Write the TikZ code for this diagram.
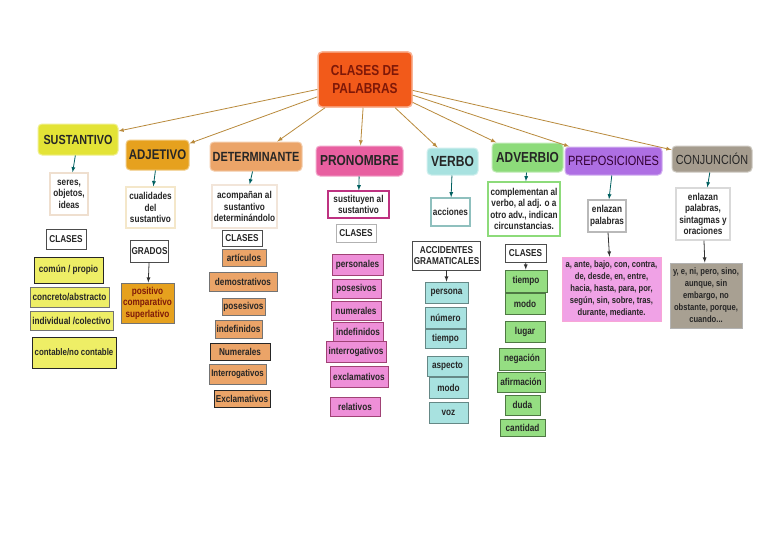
\documentclass[tikz,border=0pt]{standalone}
\usepackage{fontspec}
\setmainfont{Liberation Sans}[FakeStretch=0.82]
\definecolor{rootfill}{HTML}{F25A1A}
\definecolor{rootink}{HTML}{7E1808}
\definecolor{linkbrown}{HTML}{B98A3C}
\definecolor{sustY}{HTML}{E3E336}
\definecolor{adjO}{HTML}{E6A11E}
\definecolor{detO}{HTML}{EBA468}
\definecolor{pronP}{HTML}{E85FA0}
\definecolor{verbC}{HTML}{A8E2E0}
\definecolor{advG}{HTML}{8DDB7A}
\definecolor{prepV}{HTML}{AE6FE3}
\definecolor{conjG}{HTML}{A59C8E}
\definecolor{leafY}{HTML}{EEEE66}
\definecolor{leafP}{HTML}{EE8FD8}
\definecolor{leafG}{HTML}{95DE82}
\definecolor{listP}{HTML}{F0A2E6}
\definecolor{listG}{HTML}{A8A092}
\begin{document}
\begin{tikzpicture}[x=1pt, y=-1pt, thick,
    box/.style 2 args = {minimum width=#1, minimum height=#2, inner sep=1pt, align=center, font=\bfseries\fontsize{10}{11.5}\selectfont, text=black!85},
    root/.style = {fill=rootfill, draw=rootfill!45!white, rounded corners=4, line width=1.5pt, text=rootink, align=center, font=\bfseries\fontsize{14.5}{18}\selectfont},
    cat/.style = {fill=#1, draw=#1!55!white, rounded corners=4, line width=1pt, inner sep=1pt, text=black!85, font=\bfseries\fontsize{13.5}{15}\selectfont},
    info/.style = {draw=#1, line width=1.3pt, fill=white},
    tag/.style = {draw=black!70, line width=0.8pt, fill=white},
    leaf/.style = {fill=#1, draw=black!55, line width=0.8pt},
    link/.style = {-latex, draw=linkbrown, line width=0.8pt},
    sub/.style = {-latex, draw=teal!75!black, line width=0.8pt},
    down/.style = {-latex, draw=black!80, line width=0.8pt}
    ]
    \fill[white] (0,0) rectangle (768,543);
    \useasboundingbox (0,0) rectangle (768,543);

    \node[root, minimum width=94, minimum height=55] (root) at (365,79.5) {CLASES DE\\PALABRAS};

    % word classes
    \node[cat=sustY, minimum width=80, minimum height=31, font=\bfseries\fontsize{13.2}{15}\selectfont] (sust) at (78,139.5) {SUSTANTIVO};
    \node[cat=adjO, minimum width=63, minimum height=30, font=\bfseries\fontsize{14}{15}\selectfont] (adj) at (157.5,155) {ADJETIVO};
    \node[cat=detO, minimum width=92, minimum height=29, font=\bfseries\fontsize{13.3}{15}\selectfont] (det) at (256,156.5) {DETERMINANTE};
    \node[cat=pronP, minimum width=87, minimum height=30, font=\bfseries\fontsize{14.5}{15}\selectfont] (pron) at (359.5,161) {PRONOMBRE};
    \node[cat=verbC, minimum width=51, minimum height=27, font=\bfseries\fontsize{14.7}{15}\selectfont] (verbo) at (452.5,161.5) {VERBO};
    \node[cat=advG, minimum width=71, minimum height=29, font=\bfseries\fontsize{14.5}{15}\selectfont] (adv) at (527.5,157.5) {ADVERBIO};
    \node[cat=prepV, minimum width=97, minimum height=28, text=violet!40!black, font=\fontsize{13.4}{15}\selectfont] (prep) at (613.5,161) {PREPOSICIONES};
    \node[cat=conjG, minimum width=80, minimum height=26, font=\fontsize{13.2}{15}\selectfont] (conj) at (712,159) {CONJUNCIÓN};

    \foreach \w in {sust, adj, det, pron, verbo, adv, prep, conj}
        \draw[link] (root) -- (\w);

    % definitions
    \node[box={38}{42}, info=brown!25] (seres) at (69,194) {seres,\\objetos,\\ideas};
    \node[box={49}{41}, info=yellow!25!brown!25] (cual) at (150.5,207.5) {cualidades\\del\\sustantivo};
    \node[box={65}{43}, info=brown!20] (acomp) at (244.5,206.5) {acompañan al\\sustantivo\\determinándolo};
    \node[box={61}{27}, info=magenta!75!black] (sustit) at (358.5,204.5) {sustituyen al\\sustantivo};
    \node[box={39}{28}, info=verbC!85!black] (acc) at (450.5,212) {acciones};
    \node[box={72}{54}, info=advG] (compl) at (524,209) {complementan al\\verbo, al adj. o a\\otro adv., indican\\circunstancias.};
    \node[box={38}{32}, info=gray!55] (enl) at (607,216) {enlazan\\palabras};
    \node[box={54}{52}, info=gray!30] (enlb) at (703,214) {enlazan\\palabras,\\sintagmas y\\oraciones};

    \draw[sub] (sust) -- (seres);
    \draw[sub] (adj) -- (cual);
    \draw[sub] (det) -- (acomp);
    \draw[sub] (pron) -- (sustit);
    \draw[sub] (verbo) -- (acc);
    \draw[sub] (adv) -- (compl);
    \draw[sub] (prep) -- (enl);
    \draw[sub] (conj) -- (enlb);

    % sustantivo
    \node[box={40}{20}, tag] (sclases) at (66,239) {CLASES};
    \node[box={69}{26}, leaf=leafY, draw=black!85] (comun) at (68.5,270) {común / propio};
    \node[box={79}{20}, leaf=leafY] (concr) at (69.5,297) {concreto/abstracto};
    \node[box={83}{19}, leaf=leafY] (indiv) at (71.5,320.5) {individual /colectivo};
    \node[box={84}{31}, leaf=leafY, draw=black!85, font=\bfseries\fontsize{9.6}{11}\selectfont] (contab) at (74,352.5) {contable/no contable};

    % adjetivo
    \node[box={37}{22}, tag] (grados) at (149.5,251) {GRADOS};
    \node[box={53}{40}, leaf=adjO, text=rootink] (posit) at (147.5,303) {positivo\\comparativo\\superlativo};
    \draw[down] (grados) -- (posit);

    % determinante
    \node[box={40}{16}, tag] (dclases) at (242,238) {CLASES};
    \node[box={44}{17}, leaf=detO] (dart) at (244,257.5) {artículos};
    \node[box={68}{19}, leaf=detO] (ddem) at (243,281.5) {demostrativos};
    \node[box={43}{17}, leaf=detO] (dpos) at (243.5,306.5) {posesivos};
    \node[box={47}{18}, leaf=detO] (dind) at (238.5,329) {indefinidos};
    \node[box={60}{17}, leaf=detO, draw=black!85] (dnum) at (240,351.5) {Numerales};
    \node[box={57}{20}, leaf=detO, font=\bfseries\fontsize{9.6}{11}\selectfont] (dint) at (237.5,374) {Interrogativos};
    \node[box={56}{17}, leaf=detO, draw=black!85] (dexc) at (242,398.5) {Exclamativos};

    % pronombre
    \node[box={40}{18}, tag, draw=gray!60] (pclases) at (356,233) {CLASES};
    \node[box={51}{21}, leaf=leafP, draw=magenta!60!black] (pper) at (357.5,264.5) {personales};
    \node[box={49}{19}, leaf=leafP, draw=magenta!60!black] (ppos) at (356.5,288.5) {posesivos};
    \node[box={50}{19}, leaf=leafP, draw=magenta!60!black] (pnum) at (356,310.5) {numerales};
    \node[box={50}{19}, leaf=leafP, draw=magenta!60!black] (pind) at (358,331.5) {indefinidos};
    \node[box={60}{21}, leaf=leafP, draw=magenta!60!black] (pint) at (356,351.5) {interrogativos};
    \node[box={58}{21}, leaf=leafP, draw=magenta!60!black] (pexc) at (359,376.5) {exclamativos};
    \node[box={50}{19}, leaf=leafP, draw=magenta!60!black] (prel) at (355,406.5) {relativos};

    % verbo
    \node[box={63}{29}, tag] (accid) at (446.5,255.5) {ACCIDENTES\\GRAMATICALES};
    \node[box={43}{21}, leaf=verbC, draw=verbC!60!black] (vper) at (446.5,292.5) {persona};
    \node[box={41}{21}, leaf=verbC, draw=verbC!60!black] (vnum) at (445.5,317.5) {número};
    \node[box={41}{19}, leaf=verbC, draw=verbC!60!black] (vtie) at (445.5,338.5) {tiempo};
    \node[box={41}{20}, leaf=verbC, draw=verbC!60!black] (vasp) at (447.5,366) {aspecto};
    \node[box={39}{21}, leaf=verbC, draw=verbC!60!black] (vmod) at (448.5,387.5) {modo};
    \node[box={39}{21}, leaf=verbC, draw=verbC!60!black] (vvoz) at (448.5,412.5) {voz};
    \draw[down] (accid) -- (vper);

    % adverbio
    \node[box={41}{18}, tag] (aclases) at (525.5,253) {CLASES};
    \node[box={42}{22}, leaf=leafG, draw=advG!55!black] (atie) at (526,281) {tiempo};
    \node[box={40}{21}, leaf=leafG, draw=advG!55!black] (amod) at (525,303.5) {modo};
    \node[box={40}{21}, leaf=leafG, draw=advG!55!black] (alug) at (525,331.5) {lugar};
    \node[box={46}{22}, leaf=leafG, draw=advG!55!black] (aneg) at (522,359) {negación};
    \node[box={48}{20}, leaf=leafG, draw=advG!55!black] (aafi) at (521,382) {afirmación};
    \node[box={35}{20}, leaf=leafG, draw=advG!55!black] (adud) at (522.5,405) {duda};
    \node[box={45}{17}, leaf=leafG, draw=advG!55!black] (acan) at (522.5,427.5) {cantidad};
    \draw[down] (aclases) -- (atie);

    % preposiciones y conjunciones
    \node[box={99}{64}, leaf=listP, draw=magenta!35, font=\bfseries\fontsize{9.3}{12}\selectfont] (plist) at (611.5,289) {a, ante, bajo, con, contra,\\de, desde, en, entre,\\hacia, hasta, para, por,\\según, sin, sobre, tras,\\durante, mediante.};
    \node[box={72}{65}, leaf=listG, draw=gray!60, font=\bfseries\fontsize{9.3}{12}\selectfont] (clist) at (706,295.5) {y, e, ni, pero, sino,\\aunque, sin\\embargo, no\\obstante, porque,\\cuando...};
    \draw[down] (enl) -- (plist);
    \draw[down] (enlb) -- (clist);

\end{tikzpicture}
\end{document}
